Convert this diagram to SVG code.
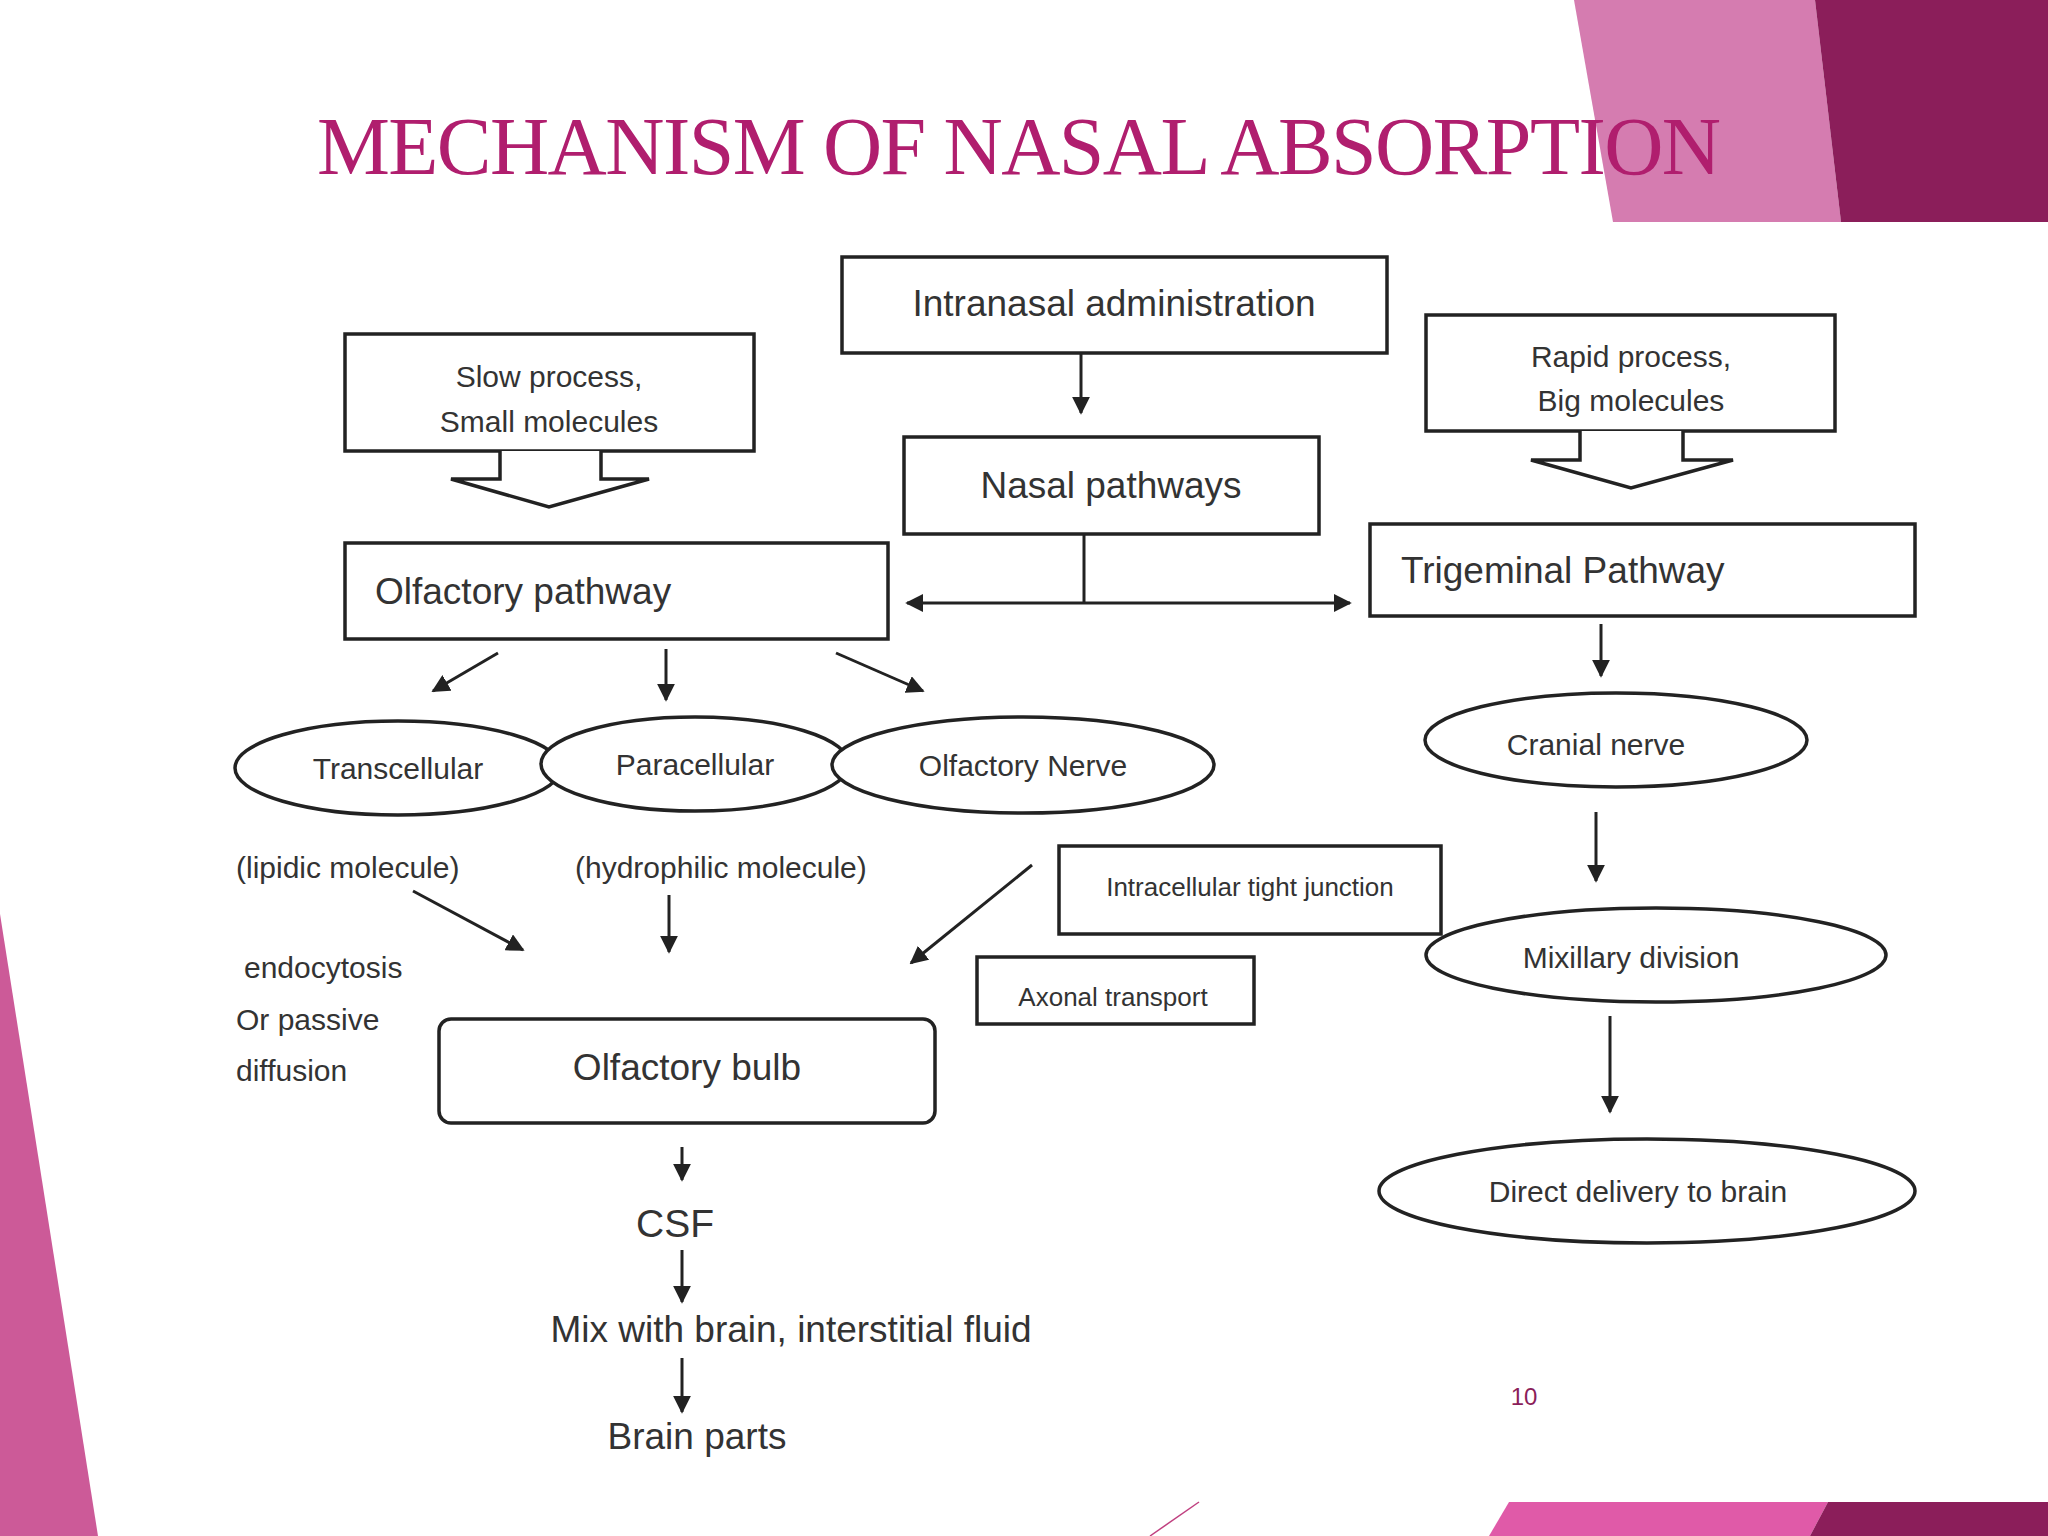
<svg xmlns="http://www.w3.org/2000/svg" width="2048" height="1536" viewBox="0 0 2048 1536">
<style>
.b{fill:#fff;stroke:#222;stroke-width:3.5}
.l{stroke:#222;stroke-width:3;fill:none}
.t{font-family:"Liberation Sans",Arial,sans-serif;fill:#333;text-anchor:middle}
.s{font-family:"Liberation Sans",Arial,sans-serif;fill:#333}
</style>
<defs><marker id="a" viewBox="0 0 10 10" refX="9" refY="5" markerWidth="6" markerHeight="6" orient="auto-start-reverse"><path d="M0,0L10,5L0,10z" fill="#222"/></marker></defs>
<rect width="2048" height="1536" fill="#fff"/>
<g id="decor">
<polygon points="1574,0 1815,0 1841,222 1613,222" fill="#d57cb0"/>
<polygon points="1815,0 2048,0 2048,222 1841,222" fill="#8b1e5a"/>
<polygon points="0,914 98,1536 0,1536" fill="#cc5a98"/>
<polygon points="1489,1536 1509,1502 1828,1502 1810,1536" fill="#e05aa8"/>
<polygon points="1810,1536 1828,1502 2048,1502 2048,1536" fill="#8b1e5a"/>
<line x1="1150" y1="1536" x2="1199" y2="1502" stroke="#c04080" stroke-width="1.5"/>
</g>
<text x="1019" y="174" font-family="Liberation Serif,serif" font-size="82" fill="#b01e6e" text-anchor="middle" textLength="1404">MECHANISM OF NASAL ABSORPTION</text>
<text x="1524" y="1405" font-family="Liberation Sans,sans-serif" font-size="24" fill="#8b1e5a" text-anchor="middle">10</text>
<g id="connectors">
<line class="l" x1="1081" y1="353" x2="1081" y2="413" marker-end="url(#a)"/>
<line class="l" x1="1084" y1="534" x2="1084" y2="603"/>
<line class="l" x1="907" y1="603" x2="1350" y2="603" marker-start="url(#a)" marker-end="url(#a)"/>
<line class="l" x1="498" y1="653" x2="433" y2="691" marker-end="url(#a)"/>
<line class="l" x1="666" y1="649" x2="666" y2="700" marker-end="url(#a)"/>
<line class="l" x1="836" y1="653" x2="923" y2="691" marker-end="url(#a)"/>
<line class="l" x1="413" y1="891" x2="523" y2="950" marker-end="url(#a)"/>
<line class="l" x1="669" y1="895" x2="669" y2="952" marker-end="url(#a)"/>
<line class="l" x1="1032" y1="865" x2="911" y2="963" marker-end="url(#a)"/>
<line class="l" x1="682" y1="1147" x2="682" y2="1180" marker-end="url(#a)"/>
<line class="l" x1="682" y1="1250" x2="682" y2="1302" marker-end="url(#a)"/>
<line class="l" x1="682" y1="1358" x2="682" y2="1412" marker-end="url(#a)"/>
<line class="l" x1="1601" y1="624" x2="1601" y2="676" marker-end="url(#a)"/>
<line class="l" x1="1596" y1="812" x2="1596" y2="881" marker-end="url(#a)"/>
<line class="l" x1="1610" y1="1016" x2="1610" y2="1112" marker-end="url(#a)"/>
</g>
<g id="intranasal"><rect class="b" x="842" y="257" width="545" height="96"/><text class="t" x="1114" y="316" font-size="37">Intranasal administration</text></g>
<g id="nasal"><rect class="b" x="904" y="437" width="415" height="97"/><text class="t" x="1111" y="498" font-size="37">Nasal pathways</text></g>
<g id="slow"><rect class="b" x="345" y="334" width="409" height="117"/><text class="t" x="549" y="387" font-size="30">Slow process,</text><text class="t" x="549" y="432" font-size="30">Small molecules</text>
<polyline class="b" points="500,451 500,479 451,479 549,507 649,479 601,479 601,451"/></g>
<g id="rapid"><rect class="b" x="1426" y="315" width="409" height="116"/><text class="t" x="1631" y="367" font-size="30">Rapid process,</text><text class="t" x="1631" y="411" font-size="30">Big molecules</text>
<polyline class="b" points="1580,431 1580,460 1531,460 1631,488 1733,460 1683,460 1683,431"/></g>
<g id="olfactory"><rect class="b" x="345" y="543" width="543" height="96"/><text class="s" x="375" y="604" font-size="37">Olfactory pathway</text></g>
<g id="trigeminal"><rect class="b" x="1370" y="524" width="545" height="92"/><text class="s" x="1401" y="583" font-size="37">Trigeminal Pathway</text></g>
<g id="transcellular"><ellipse class="b" cx="398" cy="768" rx="163" ry="47"/><text class="t" x="398" y="779" font-size="30">Transcellular</text></g>
<g id="paracellular"><ellipse class="b" cx="695" cy="764" rx="154" ry="47"/><text class="t" x="695" y="775" font-size="30">Paracellular</text></g>
<g id="onerve"><ellipse class="b" cx="1023" cy="765" rx="191" ry="48"/><text class="t" x="1023" y="776" font-size="30">Olfactory Nerve</text></g>
<g id="notes">
<text class="s" x="236" y="878" font-size="30">(lipidic molecule)</text>
<text class="s" x="575" y="878" font-size="30">(hydrophilic molecule)</text>
<text class="s" x="244" y="978" font-size="30">endocytosis</text>
<text class="s" x="236" y="1030" font-size="30">Or passive</text>
<text class="s" x="236" y="1081" font-size="30">diffusion</text>
</g>
<g id="tight"><rect class="b" x="1059" y="846" width="382" height="88"/><text class="t" x="1250" y="896" font-size="26">Intracellular tight junction</text></g>
<g id="axonal"><rect class="b" x="977" y="957" width="277" height="67"/><text class="t" x="1113" y="1006" font-size="26">Axonal transport</text></g>
<g id="bulb"><rect class="b" x="439" y="1019" width="496" height="104" rx="12"/><text class="t" x="687" y="1080" font-size="37">Olfactory bulb</text></g>
<text class="t" x="675" y="1237" font-size="39">CSF</text>
<text class="t" x="791" y="1342" font-size="37">Mix with brain, interstitial fluid</text>
<text class="t" x="697" y="1449" font-size="37">Brain parts</text>
<g id="cranial"><ellipse class="b" cx="1616" cy="740" rx="191" ry="47"/><text class="t" x="1596" y="755" font-size="30">Cranial nerve</text></g>
<g id="mixillary"><ellipse class="b" cx="1656" cy="955" rx="230" ry="47"/><text class="t" x="1631" y="968" font-size="30">Mixillary division</text></g>
<g id="direct"><ellipse class="b" cx="1647" cy="1191" rx="268" ry="52"/><text class="t" x="1638" y="1202" font-size="30">Direct delivery to brain</text></g>
</svg>
